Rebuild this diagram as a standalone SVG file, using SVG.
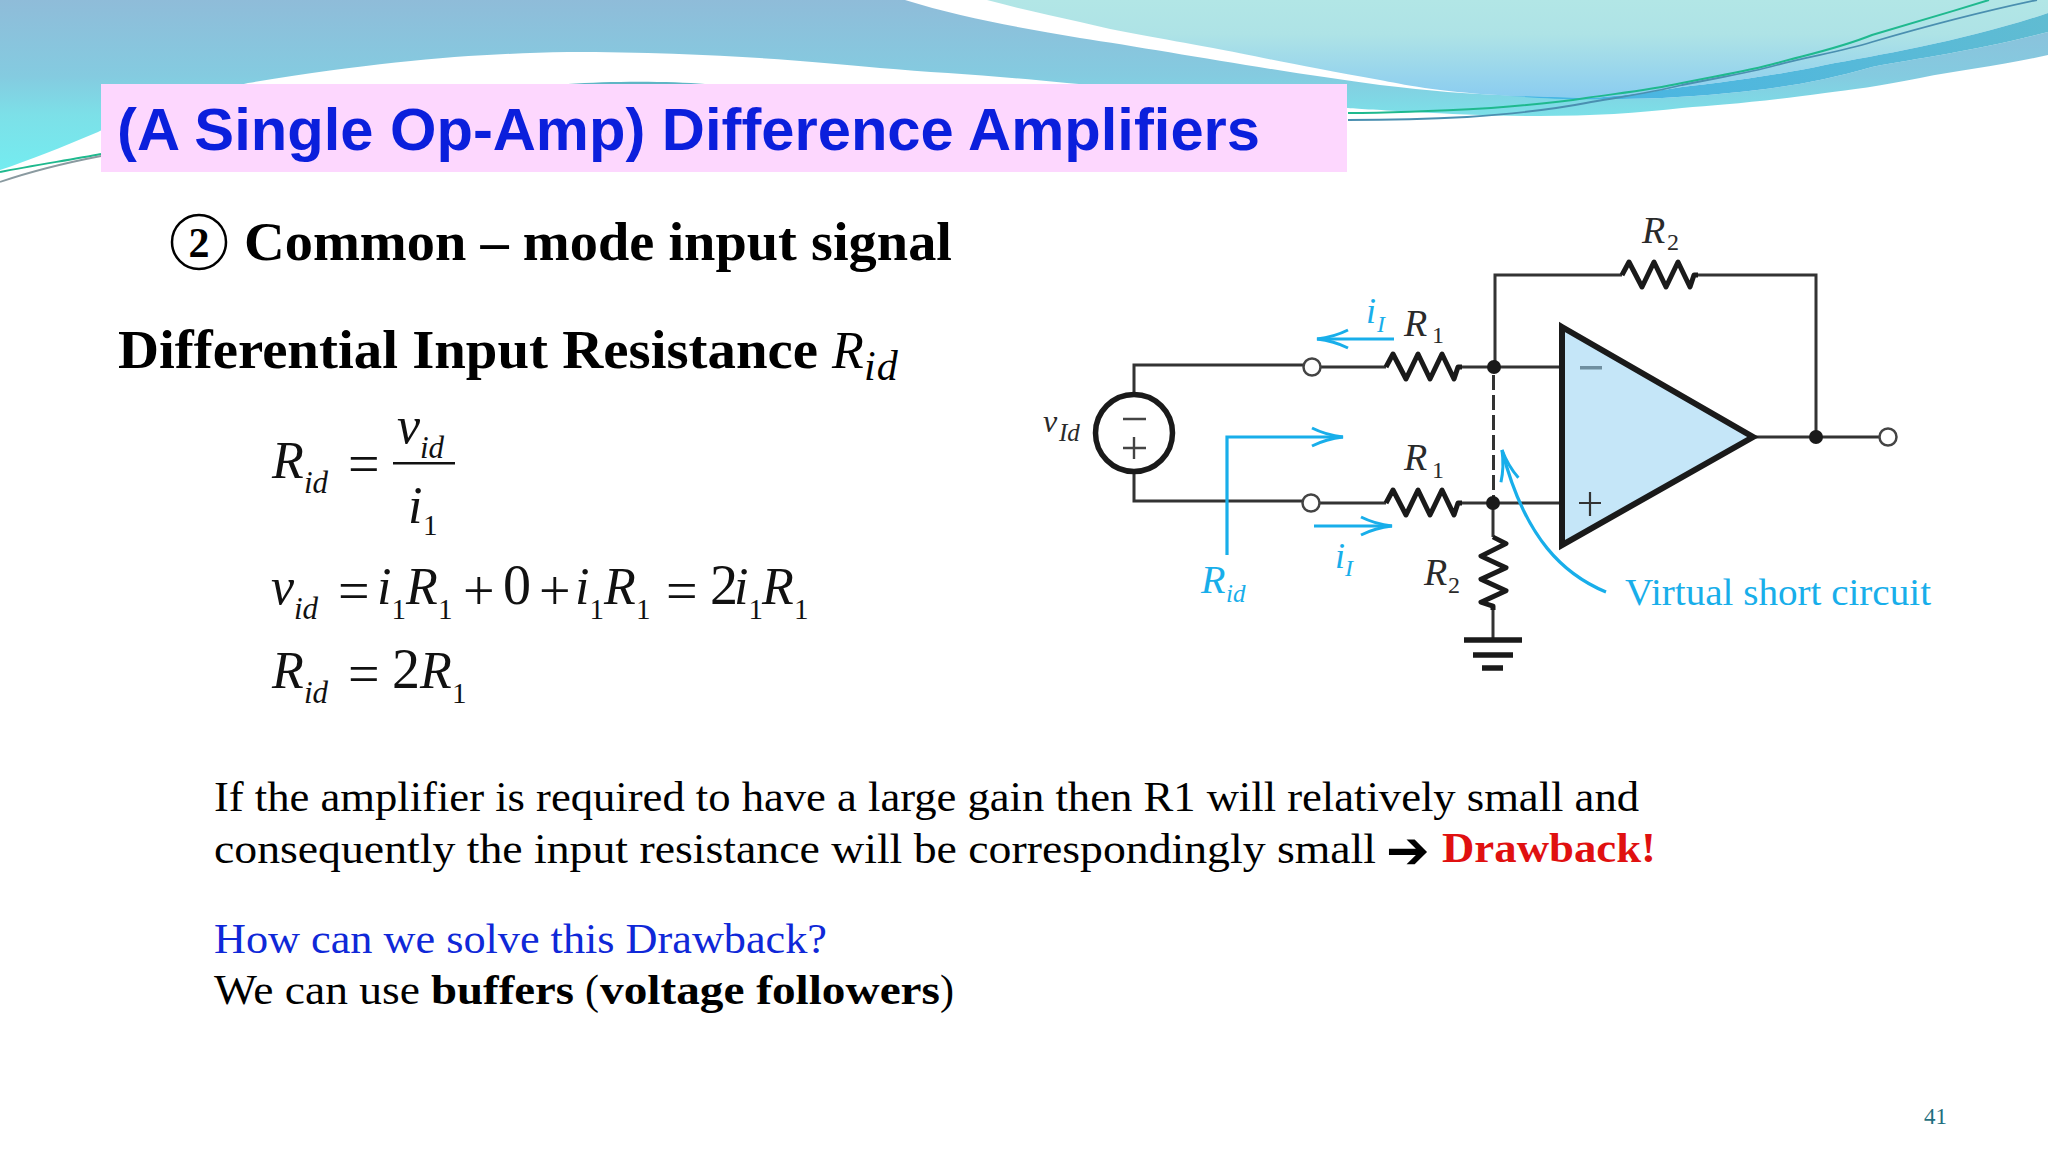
<svg xmlns="http://www.w3.org/2000/svg" width="2048" height="1152" viewBox="0 0 2048 1152">
<style>
.s{font-family:"Liberation Serif",serif;fill:#000}
.b{font-weight:700}
.m{font-family:"Liberation Serif",serif;font-style:italic;font-size:52px;fill:#111}
.mr{font-family:"Liberation Serif",serif;font-size:56px;fill:#111}
.sub{font-family:"Liberation Serif",serif;font-style:italic;font-size:31px;fill:#111}
.subr{font-family:"Liberation Serif",serif;font-size:29px;fill:#111}
.p{font-size:42px}
.w{fill:none;stroke:#333;stroke-width:3}
.r{fill:none;stroke:#1a1a1a;stroke-width:5;stroke-linejoin:round}
.dot{fill:#1a1a1a}
.o{fill:#fff;stroke:#444;stroke-width:2.5}
.bl{fill:none;stroke:#18aeea;stroke-width:3.2}
.ct{font-family:"Liberation Serif",serif;font-style:italic;fill:#2a2a2a}
.cn{font-family:"Liberation Serif",serif;fill:#2a2a2a}
.cb{font-family:"Liberation Serif",serif;font-style:italic;fill:#18aeea}
</style>
<defs>
<linearGradient id="g1" x1="0" y1="0" x2="0" y2="1"><stop offset="0" stop-color="#8fbcd9"/><stop offset="0.45" stop-color="#84cbe0"/><stop offset="0.68" stop-color="#7ce0e8"/><stop offset="1" stop-color="#74ecf0"/></linearGradient>
<linearGradient id="g2" x1="0" y1="0" x2="0" y2="1"><stop offset="0" stop-color="#b2e6e6"/><stop offset="0.35" stop-color="#aee3e6"/><stop offset="1" stop-color="#8accf0"/></linearGradient>
<linearGradient id="g4" x1="0" y1="0" x2="1" y2="0"><stop offset="0" stop-color="#44b4e6"/><stop offset="1" stop-color="#60bcd2"/></linearGradient>
<path id="res" d="M0 0L7 -13L20 12L32 -13L44 12L56 -13L68 12L72 0L76 0"/>
<marker id="ah" markerWidth="36" markerHeight="24" refX="33" refY="12" orient="auto" markerUnits="userSpaceOnUse"><path d="M2 3Q16 10 33 12Q16 14 2 21" fill="none" stroke="#18aeea" stroke-width="3"/></marker>
</defs>
<rect width="2048" height="1152" fill="#fff"/>
<g id="background">
<path d="M0 0H905C960 17 1020 28 1080 38C1160 50 1280 72 1380 85C1430 91 1470 94 1500 95L1610 99C1640 99 1680 98 1729 93C1780 88 1820 82 1872 67C1920 58 1980 50 2048 32V55C2000 66 1960 70 1920 78C1880 86 1850 90 1825 93C1760 102 1720 105 1682 108C1640 113 1590 116 1539 116C1490 116 1450 114 1415 112C1380 110 1360 109 1348 108C1250 98 1150 90 1067 83C1000 76 940 73 880 68C800 60 700 52 568 52C470 54 390 60 248 83C180 100 140 110 98 132C60 148 30 160 0 170Z" fill="url(#g1)"/>
<path d="M987 0H2048V13C1968 40 1880 55 1825 65C1770 77 1700 85 1682 87C1640 94 1600 98 1586 98L1510 96L1498 95C1440 92 1400 84 1380 80C1300 66 1250 55 1213 48C1160 38 1120 32 1080 22C1050 15 1020 9 987 0Z" fill="url(#g2)"/>
<path d="M1510 96L1586 98C1600 98 1640 94 1682 87C1700 85 1770 77 1825 65C1880 55 1968 40 2048 13V32C1980 50 1920 58 1872 67C1820 82 1780 88 1729 93C1680 98 1640 99 1610 99C1570 100 1540 98 1510 96Z" fill="url(#g4)"/>
<path d="M1348 113C1400 113 1491 108 1491 108C1530 105 1560 102 1586 98C1620 93 1650 90 1682 83C1715 76 1745 72 1777 63C1810 54 1840 48 1872 35C1910 24 1950 12 1989 0" fill="none" stroke="#1fb98e" stroke-width="2"/>
<path d="M1348 120C1390 120 1430 119 1467 117C1510 114 1550 110 1586 103C1620 97 1650 93 1682 85C1715 78 1745 74 1777 65C1810 56 1840 52 1872 42C1920 28 1980 12 2037 0" fill="none" stroke="#4a8fb0" stroke-width="1.8"/>
<path d="M0 172C35 165 70 160 101 154" fill="none" stroke="#1fb98e" stroke-width="2"/>
<path d="M0 182C35 170 70 162 101 156" fill="none" stroke="#8a9aa0" stroke-width="1.8"/>
<path d="M568 84C610 81 670 81 705 84Z" fill="#5fb5c5"/>
</g>
<g id="title">
<rect x="101" y="84" width="1246" height="88" fill="#fdd7fe"/>
<text x="117" y="150" font-family="Liberation Sans,sans-serif" font-weight="700" font-size="60" fill="#0b1fdc" textLength="1143" lengthAdjust="spacingAndGlyphs">(A Single Op-Amp) Difference Amplifiers</text>
</g>
<g id="heading">
<ellipse cx="199" cy="242" rx="27" ry="27" fill="none" stroke="#000" stroke-width="2.5"/>
<text x="199" y="257" text-anchor="middle" class="s b" font-size="42">2</text>
<text x="244" y="260" class="s b" font-size="54" textLength="708" lengthAdjust="spacingAndGlyphs">Common – mode input signal</text>
<text x="118" y="368" class="s b" font-size="54" textLength="700" lengthAdjust="spacingAndGlyphs">Differential Input Resistance</text>
<text x="832" y="368" class="s" font-style="italic" font-size="52">R</text>
<text x="864" y="380" class="s" font-style="italic" font-size="42" letter-spacing="1">id</text>
</g>
<g id="equations">
<text x="272" y="478" class="m">R</text><text x="304" y="493" class="sub">id</text>
<text x="348" y="483" class="mr">=</text>
<text x="397" y="443" class="m">v</text><text x="420" y="458" class="sub">id</text>
<rect x="393" y="462" width="62" height="2.5" fill="#111"/>
<text x="408" y="523" class="m">i</text><text x="423" y="535" class="subr">1</text>
<text x="271" y="604" class="m">v</text><text x="294" y="619" class="sub">id</text>
<text x="338" y="610" class="mr">=</text>
<text x="377" y="604" class="m">i</text><text x="391.5" y="619" class="subr">1</text>
<text x="406" y="604" class="m">R</text><text x="438" y="619" class="subr">1</text>
<text x="463" y="610" class="mr">+</text>
<text x="503" y="604" class="mr">0</text>
<text x="539" y="610" class="mr">+</text>
<text x="575" y="604" class="m">i</text><text x="589.5" y="619" class="subr">1</text>
<text x="604" y="604" class="m">R</text><text x="636" y="619" class="subr">1</text>
<text x="666" y="610" class="mr">=</text>
<text x="710" y="604" class="mr">2</text>
<text x="734" y="604" class="m">i</text><text x="748.5" y="619" class="subr">1</text>
<text x="762" y="604" class="m">R</text><text x="794" y="619" class="subr">1</text>
<text x="272" y="688" class="m">R</text><text x="304" y="703" class="sub">id</text>
<text x="348" y="693" class="mr">=</text>
<text x="392" y="688" class="mr">2</text>
<text x="420" y="688" class="m">R</text><text x="452" y="703" class="subr">1</text>
</g>
<g id="paragraphs">
<text x="214" y="811" class="s p" textLength="1425" lengthAdjust="spacingAndGlyphs">If the amplifier is required to have a large gain then R1 will relatively small and</text>
<text x="214" y="863" class="s p" textLength="1162" lengthAdjust="spacingAndGlyphs">consequently the input resistance will be correspondingly small</text>
<text x="1386" y="868" font-family="DejaVu Sans,sans-serif" font-size="52" fill="#000">➔</text>
<text x="1442" y="862" class="s b p" style="fill:#e01010" textLength="214" lengthAdjust="spacingAndGlyphs">Drawback!</text>
<text x="214" y="953" class="s p" style="fill:#0f28d8" textLength="613" lengthAdjust="spacingAndGlyphs">How can we solve this Drawback?</text>
<text x="214" y="1004" class="s p" textLength="206" lengthAdjust="spacingAndGlyphs">We can use</text>
<text x="431" y="1004" class="s b p" textLength="143" lengthAdjust="spacingAndGlyphs">buffers</text>
<text x="585" y="1004" class="s p">(</text>
<text x="600" y="1004" class="s b p" textLength="340" lengthAdjust="spacingAndGlyphs">voltage followers</text>
<text x="940" y="1004" class="s p">)</text>
</g>
<g id="connectors">
<path class="w" d="M1134 393V365H1303"/>
<path class="w" d="M1134 473V501H1302"/>
<path class="w" d="M1321 367H1386"/>
<path class="w" d="M1320 503H1386"/>
<path class="w" d="M1462 367H1562"/>
<path class="w" d="M1460 503H1562"/>
<path class="w" d="M1495 367V275H1622"/>
<path class="w" d="M1697 275H1816V437"/>
<path class="w" d="M1753 437H1879"/>
<path class="w" d="M1493 503V537"/>
<path class="w" d="M1493 610V640"/>
<path d="M1493.5 375V497" fill="none" stroke="#333" stroke-width="3" stroke-dasharray="15 5"/>
</g>
<g id="R1-top"><use href="#res" class="r" transform="translate(1386 367)"/><text x="1404" y="336" class="ct" font-size="38">R</text><text x="1432" y="343" class="cn" font-size="24">1</text></g>
<g id="R1-bottom"><use href="#res" class="r" transform="translate(1386 503)"/><text x="1404" y="470" class="ct" font-size="38">R</text><text x="1432" y="478" class="cn" font-size="24">1</text></g>
<g id="R2-top"><use href="#res" class="r" transform="translate(1622 275)"/><text x="1642" y="243" class="ct" font-size="38">R</text><text x="1667" y="250" class="cn" font-size="24">2</text></g>
<g id="R2-bottom"><use href="#res" class="r" transform="translate(1493 537) rotate(90) scale(0.96 1)"/><text x="1424" y="585" class="ct" font-size="38">R</text><text x="1448" y="593" class="cn" font-size="24">2</text></g>
<g id="opamp">
<path d="M1562 327L1753 437L1562 545Z" fill="#c5e6f8" stroke="#1a1a1a" stroke-width="6" stroke-linejoin="miter"/>
<rect x="1580" y="366" width="22" height="3.5" fill="#6f8fa0"/>
<path d="M1590 492V516M1579 503H1601" stroke="#333" stroke-width="2.2" fill="none"/>
</g>
<g id="source">
<circle cx="1134" cy="433" r="38.5" fill="#fff" stroke="#1a1a1a" stroke-width="5.5"/>
<path d="M1123 419H1146M1123 448H1146M1134 437V459" stroke="#444" stroke-width="2.4" fill="none"/>
<text x="1043" y="432" class="ct" font-size="32">v</text><text x="1059" y="441" class="ct" font-size="25">Id</text>
</g>
<g id="junctions">
<circle class="dot" cx="1494" cy="367" r="7"/>
<circle class="dot" cx="1493" cy="503" r="7"/>
<circle class="dot" cx="1816" cy="437" r="7"/>
<circle class="o" cx="1312" cy="367" r="8.5"/>
<circle class="o" cx="1311" cy="503" r="8.5"/>
<circle class="o" cx="1888" cy="437" r="8.5"/>
</g>
<g id="ground">
<path d="M1464 640H1522" stroke="#1a1a1a" stroke-width="5.5" fill="none"/>
<path d="M1473 655H1513" stroke="#1a1a1a" stroke-width="5.5" fill="none"/>
<path d="M1482 668H1503" stroke="#1a1a1a" stroke-width="5.5" fill="none"/>
</g>
<g id="annotations">
<path class="bl" d="M1394 339H1317" marker-end="url(#ah)"/>
<path class="bl" d="M1314 526H1392" marker-end="url(#ah)"/>
<path class="bl" d="M1227 555V437H1343" marker-end="url(#ah)"/>
<path class="bl" d="M1606 592C1565 575 1525 540 1502 450" marker-end="url(#ah)"/>
<text x="1366" y="323" class="cb" font-size="36">i</text><text x="1377" y="332" class="cb" font-size="24">I</text>
<text x="1335" y="568" class="cb" font-size="36">i</text><text x="1345" y="576" class="cb" font-size="24">I</text>
<text x="1201" y="593" class="cb" font-size="40">R</text><text x="1226" y="602" class="cb" font-size="25">id</text>
<text x="1625" y="605" font-family="Liberation Serif,serif" font-size="38" fill="#18aeea" textLength="306" lengthAdjust="spacingAndGlyphs">Virtual short circuit</text>
</g>
<text id="page" x="1924" y="1124" font-family="Liberation Serif,serif" font-size="23" fill="#1f6f80">41</text>
</svg>
